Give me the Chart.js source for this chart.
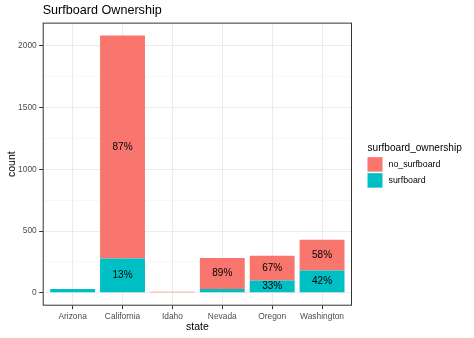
<!DOCTYPE html>
<html>
<head>
<meta charset="utf-8">
<script src="https://cdn.jsdelivr.net/npm/chart.js@4/dist/chart.umd.min.js"></script>
<style>
  html, body { margin: 0; padding: 0; background: #fff; }
  #wrap { width: 474px; height: 338px; }
</style>
</head>
<body>
<div id="wrap"><canvas id="chart" width="474" height="338"></canvas></div>
<script>
// Data
const states = ['Arizona', 'California', 'Idaho', 'Nevada', 'Oregon', 'Washington'];
const surfboard = [32, 277, 0, 31, 100, 180];
const noSurfboard = [0, 1806, 8, 251, 200, 250];
const surfLabels = ['', '13%', '', '', '33%', '42%'];
const noSurfLabels = ['', '87%', '', '89%', '67%', '58%'];
const yTicks = [0, 500, 1000, 1500, 2000];
const yMinor = [250, 750, 1250, 1750];

const RED = '#F8766D';
const TEAL = '#00BFC4';
const FONT = "'Liberation Sans', Arial, sans-serif";

// percentage labels in the middle of each segment
const segmentLabels = {
  id: 'segmentLabels',
  afterDatasetsDraw(chart) {
    const ctx = chart.ctx;
    ctx.save();
    ctx.font = '10px ' + FONT;
    ctx.fillStyle = '#000';
    ctx.textAlign = 'center';
    ctx.textBaseline = 'middle';
    chart.data.datasets.forEach((ds, di) => {
      const meta = chart.getDatasetMeta(di);
      meta.data.forEach((bar, i) => {
        const txt = ds.labels[i];
        if (!txt) return;
        ctx.fillText(txt, bar.x, (bar.y + bar.base) / 2);
      });
    });
    ctx.restore();
  }
};

// panel border + legend drawn like ggplot
const panelAndLegend = {
  id: 'panelAndLegend',
  afterDraw(chart) {
    const ctx = chart.ctx;
    const a = chart.chartArea;
    ctx.save();
    ctx.strokeStyle = '#333333';
    ctx.lineWidth = 1;
    ctx.strokeRect(a.left + 0.5, a.top + 0.5, a.right - a.left - 1, a.bottom - a.top - 1);

    // legend, keyed to the vertical middle of the panel
    const x = a.right + 15.5;
    const mid = (a.top + a.bottom) / 2;
    const items = [
      { label: 'no_surfboard', color: RED },
      { label: 'surfboard', color: TEAL }
    ];
    const pitch = 16;
    const keyTop = mid - 7;
    ctx.fillStyle = '#000';
    ctx.font = '10.1px ' + FONT;
    ctx.textAlign = 'left';
    ctx.textBaseline = 'middle';
    ctx.fillText('surfboard_ownership', x, mid - 16);
    ctx.font = '8.8px ' + FONT;
    items.forEach((it, i) => {
      const y = keyTop + i * pitch;
      ctx.fillStyle = it.color;
      ctx.fillRect(x, y, 15, 14.5);
      ctx.fillStyle = '#000';
      ctx.fillText(it.label, x + 21, y + 7.5);
    });
    ctx.restore();
  }
};

const isMinor = (ctx) => yMinor.includes(ctx.tick && ctx.tick.value);

new Chart(document.getElementById('chart'), {
  type: 'bar',
  data: {
    datasets: [
      {
        label: 'surfboard',
        data: states.map((s, i) => ({ x: i, y: surfboard[i] })),
        labels: surfLabels,
        backgroundColor: TEAL
      },
      {
        label: 'no_surfboard',
        data: states.map((s, i) => ({ x: i, y: noSurfboard[i] })),
        labels: noSurfLabels,
        backgroundColor: RED
      }
    ]
  },
  options: {
    responsive: false,
    animation: false,
    layout: { padding: { top: 0, right: 122, bottom: 0, left: 0 } },
    datasets: {
      bar: { barPercentage: 0.9, categoryPercentage: 1.0 }
    },
    plugins: {
      legend: { display: false },
      tooltip: { enabled: false },
      title: {
        display: true,
        text: 'Surfboard Ownership',
        align: 'start',
        fullSize: false,
        color: '#000',
        font: { family: FONT, size: 12.6, weight: 'normal' },
        padding: { top: 3, bottom: 4.5 }
      }
    },
    scales: {
      x: {
        type: 'linear',
        stacked: true,
        offset: false,
        min: -0.6,
        max: 5.6,
        afterBuildTicks: (scale) => { scale.ticks = states.map((s, i) => ({ value: i })); },
        afterFit: (scale) => { scale.height = 32.3; },
        grid: {
          offset: false,
          color: '#EBEBEB',
          lineWidth: 1,
          tickColor: '#333333',
          tickLength: 3.5,
          drawTicks: true
        },
        border: { display: false },
        ticks: {
          color: '#4D4D4D',
          font: { family: FONT, size: 8.4 },
          padding: 2,
          maxRotation: 0,
          autoSkip: false,
          callback: (v) => states[v]
        },
        title: {
          display: true,
          text: 'state',
          color: '#000',
          font: { family: FONT, size: 10.5 },
          padding: { top: 0, bottom: 4.5 }
        }
      },
      y: {
        stacked: true,
        min: -104,
        max: 2187,
        afterBuildTicks: (scale) => {
          scale.ticks = yTicks.concat(yMinor).sort((p, q) => p - q).map(v => ({ value: v }));
        },
        afterFit: (scale) => { scale.width = 42.7; },
        grid: {
          color: (ctx) => isMinor(ctx) ? '#F2F2F2' : '#EBEBEB',
          lineWidth: (ctx) => isMinor(ctx) ? 0.6 : 1,
          tickColor: (ctx) => isMinor(ctx) ? 'rgba(0,0,0,0)' : '#333333',
          tickLength: 3.5,
          drawTicks: true
        },
        border: { display: false },
        ticks: {
          color: '#4D4D4D',
          font: { family: FONT, size: 8.4 },
          padding: 2.5,
          autoSkip: false,
          callback: (v) => yTicks.includes(v) ? String(v) : ''
        },
        title: {
          display: true,
          text: 'count',
          color: '#000',
          font: { family: FONT, size: 10.5 },
          padding: { top: 5.4, bottom: 0 }
        }
      }
    }
  },
  plugins: [segmentLabels, panelAndLegend]
});
</script>
</body>
</html>
